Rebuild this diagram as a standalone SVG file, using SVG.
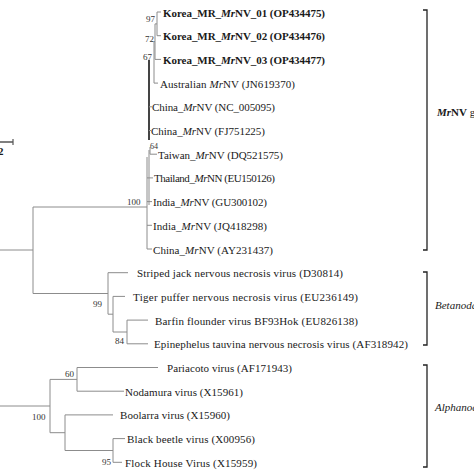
<svg xmlns="http://www.w3.org/2000/svg" width="474" height="474" viewBox="0 0 474 474">
<style>
.bg{fill:#ffffff}
.br{stroke:#8c8c8c;stroke-width:1;fill:none}
.bd{stroke:#444444;stroke-width:2;fill:none}
.bk{stroke:#222222;stroke-width:1.3;fill:none}
.lf{font-family:"Liberation Serif","Times New Roman",serif;font-size:11px;fill:#1a1a1a}
.kb{font-weight:bold}
.it{font-style:italic}
.bs{font-family:"Liberation Serif","Times New Roman",serif;font-size:9px;fill:#333333}
.sm{font-size:8px}
.cl{font-family:"Liberation Serif","Times New Roman",serif;font-size:11px;fill:#1a1a1a;font-style:italic}
</style>
<rect class="bg" x="0" y="0" width="474" height="474"/>
<g id="connectors">
  <!-- MrNV subtree -->
  <path class="br" d="M157 12V35.7M157 12H161M157 35.7H161"/>
  <path class="br" d="M155 23.9V59.4M155 23.9H157M155 59.4H161"/>
  <path class="br" d="M154 41.6V83.1M154 41.6H155M154 83.1H158"/>
  <path class="bd" d="M149 60V140"/>
  <path class="br" d="M149 106.8H152M149 130.5H151"/>
  <path class="br" d="M150 147V154.2H157"/>
  <path class="br" d="M149 150V205"/>
  <path class="br" d="M147 157V249M147 177.9H153M147 201.6H152M147 225.3H152M147 249H152"/>
  <path class="br" d="M33 207H147"/>
  <!-- root link -->
  <path class="br" d="M0 250H33M33 207V293.5"/>
  <!-- Betanodavirus -->
  <path class="br" d="M33 293.5H108M108 272.7V314.2M108 272.7H128"/>
  <path class="br" d="M108 314.2H113M113 296.4V332M113 296.4H125"/>
  <path class="br" d="M113 332H127M127 320.1V343.8M127 320.1H148M127 343.8H148"/>
  <!-- Alphanodavirus -->
  <path class="br" d="M0 406H50M50 379.4V432.7"/>
  <path class="br" d="M50 379.4H77M77 367.5V391.2M77 367.5H158M77 391.2H124"/>
  <path class="br" d="M50 432.7H65M65 414.9V450.5M65 414.9H113"/>
  <path class="br" d="M65 450.5H113M113 438.6V462.3M113 438.6H125M113 462.3H122"/>
  <!-- scale bar -->
  <path class="bd" d="M0 142H13" style="stroke-width:1.5;stroke:#555"/>
  <path class="br" d="M13 139V145" style="stroke:#555;stroke-width:1.2"/>
  <!-- clade brackets -->
  <path class="bk" d="M423 10H427V250H423"/>
  <path class="bk" d="M423 272H427V345H423"/>
  <path class="bk" d="M423 365H427V467H423"/>
</g>
<g id="support">
  <text class="bs" x="155" y="22" text-anchor="end">97</text>
  <text class="bs" x="154" y="42" text-anchor="end">72</text>
  <text class="bs" x="152" y="60" text-anchor="end">67</text>
  <text class="bs sm" x="150" y="149">64</text>
  <text class="bs" x="127" y="205">100</text>
  <text class="bs" x="93" y="307">99</text>
  <text class="bs" x="115" y="344">84</text>
  <text class="bs" x="65" y="377">60</text>
  <text class="bs" x="32" y="420">100</text>
  <text class="bs" x="102" y="465">95</text>
</g>
<g id="scale-label">
  <text class="lf kb" x="3.5" y="155" text-anchor="end">0.2</text>
</g>
<g id="leaf-korea-01"><text class="lf kb" x="163" y="16.5" textLength="162" lengthAdjust="spacing">Korea_MR_<tspan class="it">Mr</tspan>NV_01 (OP434475)</text></g>
<g id="leaf-korea-02"><text class="lf kb" x="163" y="40.2" textLength="162" lengthAdjust="spacing">Korea_MR_<tspan class="it">Mr</tspan>NV_02 (OP434476)</text></g>
<g id="leaf-korea-03"><text class="lf kb" x="163" y="63.9" textLength="162" lengthAdjust="spacing">Korea_MR_<tspan class="it">Mr</tspan>NV_03 (OP434477)</text></g>
<g id="leaf-australian"><text class="lf" x="160" y="87.6" textLength="135" lengthAdjust="spacing">Australian <tspan class="it">Mr</tspan>NV (JN619370)</text></g>
<g id="leaf-china-nc"><text class="lf" x="152" y="111.3" textLength="123" lengthAdjust="spacing">China_<tspan class="it">Mr</tspan>NV (NC_005095)</text></g>
<g id="leaf-china-fj"><text class="lf" x="151" y="135" textLength="114" lengthAdjust="spacing">China_<tspan class="it">Mr</tspan>NV (FJ751225)</text></g>
<g id="leaf-taiwan"><text class="lf" x="158" y="158.7" textLength="125" lengthAdjust="spacing">Taiwan_<tspan class="it">Mr</tspan>NV (DQ521575)</text></g>
<g id="leaf-thailand"><text class="lf" x="154" y="182.4" textLength="121" lengthAdjust="spacing">Thailand_<tspan class="it">Mr</tspan>NN (EU150126)</text></g>
<g id="leaf-india-gu"><text class="lf" x="153" y="206.1" textLength="114" lengthAdjust="spacing">India_<tspan class="it">Mr</tspan>NV (GU300102)</text></g>
<g id="leaf-india-jq"><text class="lf" x="153" y="229.8" textLength="114" lengthAdjust="spacing">India_<tspan class="it">Mr</tspan>NV (JQ418298)</text></g>
<g id="leaf-china-ay"><text class="lf" x="153" y="253.5" textLength="120" lengthAdjust="spacing">China_<tspan class="it">Mr</tspan>NV (AY231437)</text></g>
<g id="leaf-striped-jack"><text class="lf" x="137" y="277.2" textLength="206" lengthAdjust="spacing">Striped jack nervous necrosis virus (D30814)</text></g>
<g id="leaf-tiger-puffer"><text class="lf" x="133" y="300.9" textLength="225" lengthAdjust="spacing">Tiger puffer nervous necrosis virus (EU236149)</text></g>
<g id="leaf-barfin"><text class="lf" x="155" y="324.6" textLength="203" lengthAdjust="spacing">Barfin flounder virus BF93Hok (EU826138)</text></g>
<g id="leaf-epinephelus"><text class="lf" x="154" y="348.3" textLength="254" lengthAdjust="spacing">Epinephelus tauvina nervous necrosis virus (AF318942)</text></g>
<g id="leaf-pariacoto"><text class="lf" x="167" y="372" textLength="125" lengthAdjust="spacing">Pariacoto virus (AF171943)</text></g>
<g id="leaf-nodamura"><text class="lf" x="125" y="395.7" textLength="118" lengthAdjust="spacing">Nodamura virus (X15961)</text></g>
<g id="leaf-boolarra"><text class="lf" x="120" y="419.4" textLength="110" lengthAdjust="spacing">Boolarra virus (X15960)</text></g>
<g id="leaf-black-beetle"><text class="lf" x="127" y="443.1" textLength="128" lengthAdjust="spacing">Black beetle virus (X00956)</text></g>
<g id="leaf-flock-house"><text class="lf" x="125" y="466.8" textLength="132" lengthAdjust="spacing">Flock House Virus (X15959)</text></g>
<g id="clade-mrnv"><text class="cl" x="437" y="116" style="font-style:normal"><tspan class="kb it">Mr</tspan><tspan class="kb">NV</tspan> group</text></g>
<g id="clade-beta"><text class="cl" x="435" y="309">Betanodavirus</text></g>
<g id="clade-alpha"><text class="cl" x="435" y="411">Alphanodavirus</text></g>
</svg>
